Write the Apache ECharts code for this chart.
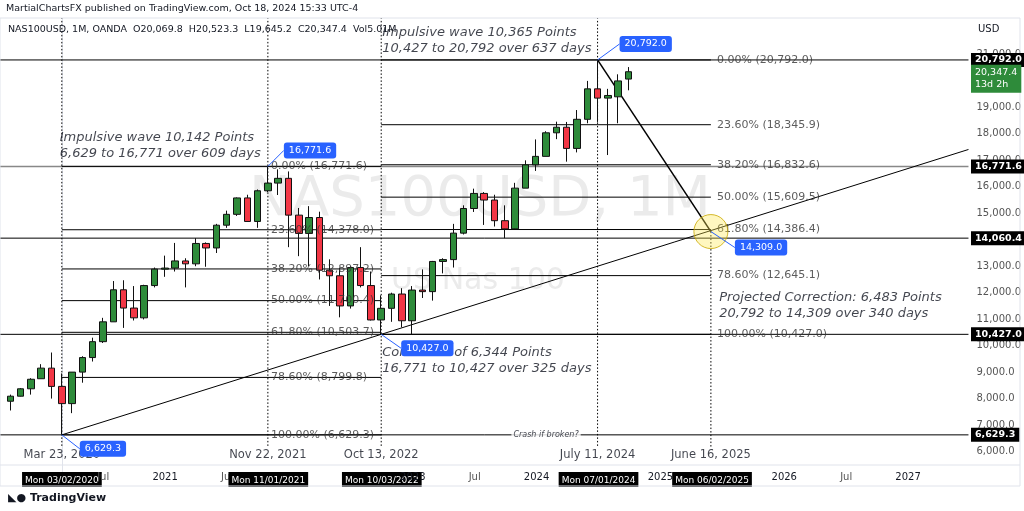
<!DOCTYPE html>
<html>
<head>
<meta charset="utf-8">
<script src="https://cdn.jsdelivr.net/npm/echarts@6/dist/echarts.min.js"></script>
<style>
  html, body { margin: 0; padding: 0; background: #fff; }
  #chart { width: 1024px; height: 511px; }
</style>
</head>
<body>
<div id="chart"></div>
<script>
// month index: 0 = Mar 2020, candles from Oct 2019 (-5) to Oct 2024 (55)
const firstMonth = -5;
const opens  = [7900, 8090, 8370, 8750, 9150, 8460, 7810, 9000, 9550, 10150, 10900, 12110, 11420, 11050, 12270,
  12890, 12930, 13200, 13090, 13860, 13690, 14550, 14960, 15580, 14690, 15850, 16140,
  16320, 14930, 14240, 14840, 12850, 12640, 11500, 12950, 12270, 10970, 11410, 11950,
  10940, 12100, 12040, 13180, 13250, 14250, 15180, 15750, 15500, 14720, 14410, 15950,
  16830, 17150, 18040, 18250, 17450, 18550, 19700, 19350, 19400, 20069.8];
const closes = [8090, 8370, 8730, 9150, 8460, 7810, 9000, 9550, 10150, 10900, 12110, 11420, 11050, 12270, 12890,
  12930, 13200, 13090, 13860, 13690, 14550, 14960, 15580, 14690, 15850, 16140, 16320,
  14930, 14240, 14840, 12850, 12640, 11500, 12950, 12270, 10970, 11410, 11950, 10940,
  12100, 12040, 13180, 13250, 14250, 15180, 15750, 15500, 14720, 14410, 15950, 16830,
  17150, 18040, 18250, 17450, 18550, 19700, 19350, 19450, 20000, 20347.4];
const lows   = [7550, 8080, 8150, 8750, 8000, 6629.3, 7450, 8600, 9400, 10100, 10900, 10670, 10950, 10990, 12200,
  12600, 12800, 12200, 13000, 12980, 13500, 14450, 14900, 14700, 14450, 15800, 15690,
  13720, 13380, 13000, 12500, 11500, 11070, 11400, 12200, 10950, 10440, 10900, 10690,
  10427, 11800, 11700, 12730, 12950, 14200, 15050, 14560, 14500, 14060, 14400, 15950,
  16600, 17150, 17800, 16950, 17300, 18400, 18450, 17200, 18400, 19645.2];
const highs  = [8150, 8400, 8770, 9300, 9740, 8950, 9000, 9600, 10300, 11050, 12440, 12470, 12250, 12300, 12950,
  13400, 13880, 13300, 14060, 13900, 14600, 15100, 15600, 15700, 15900, 16771.6, 16660,
  16580, 15200, 15270, 15060, 13260, 12950, 13000, 13720, 12800, 11900, 12000, 12170,
  12250, 12880, 13200, 13300, 14600, 15300, 15930, 15800, 15700, 15300, 16150, 17000,
  17790, 18100, 18460, 18450, 18900, 20000, 20792, 19700, 20250, 20523.3];

const fib1Pct = ['0.00%', '23.60%', '38.20%', '50.00%', '61.80%', '78.60%', '100.00%'];
const fib1Val = [16771.6, 14378.0, 12897.2, 11700.4, 10503.7, 8799.8, 6629.3];
const fib2Pct = ['0.00%', '23.60%', '38.20%', '50.00%', '61.80%', '78.60%', '100.00%'];
const fib2Val = [20792.0, 18345.9, 16832.6, 15609.5, 14386.4, 12645.1, 10427.0];

const fullLines = [20792.0, 16771.6, 14060.4, 10427.0, 6629.3];
const pivotMonths = [0, 20, 31, 52, 63];
const pivotDates = ['Mar 23, 2020', 'Nov 22, 2021', 'Oct 13, 2022', 'July 11, 2024', 'June 16, 2025'];
const pivotBoxes = ['Mon 03/02/2020', 'Mon 11/01/2021', 'Mon 10/03/2022', 'Mon 07/01/2024', 'Mon 06/02/2025'];
const priceTicks = [6000, 7000, 8000, 9000, 10000, 11000, 12000, 13000, 14000, 15000, 16000, 17000, 18000, 19000, 20000, 21000];

const X_MIN = -6, X_MAX = 88;
const candles = opens.map((o, i) => [firstMonth + i, o, closes[i], lows[i], highs[i]]);

function seg(data, opts) {
  return Object.assign({
    type: 'line', data: data, showSymbol: false, silent: true,
    lineStyle: { color: '#000', width: 1 }, xAxisIndex: 0, yAxisIndex: 0, z: 3
  }, opts || {});
}
function textAt(x, y, text, style, pos) {
  return {
    type: 'scatter', data: [[x, y]], symbolSize: 0, silent: true, z: 6,
    label: Object.assign({ show: true, position: pos || 'right', distance: 0, formatter: text,
      color: '#131722', fontFamily: 'DejaVu Sans', fontSize: 11 }, style)
  };
}

const series = [];
series.push({
  type: 'candlestick', data: candles, barWidth: 7, z: 4,
  encode: { x: 0, y: [1, 2, 3, 4] },
  itemStyle: { color: '#2e8b3a', color0: '#f23645', borderColor: '#111', borderColor0: '#111', borderWidth: 1 }
});
fullLines.forEach(v => series.push(seg([[X_MIN, v], [X_MAX, v]], {
  lineStyle: { color: v === 16771.6 ? '#888' : '#000', width: v === 16771.6 ? 1.5 : 1 } })));
fib1Val.forEach((v, i) => {
  series.push(seg([[0, v], [31, v]]));
  series.push(textAt(20.3, v, fib1Pct[i] + ' (' + v.toLocaleString('en-US', { minimumFractionDigits: 1 }) + ')', { color: '#333' }));
});
fib2Val.forEach((v, i) => {
  series.push(seg([[31, v], [63, v]]));
  series.push(textAt(63.6, v, fib2Pct[i] + ' (' + v.toLocaleString('en-US', { minimumFractionDigits: 1 }) + ')', { color: '#333' }));
});
// trend line through the two lows, projected correction line
series.push(seg([[0, 6629.3], [31, 10427.0], [X_MAX, 10427.0 + (10427.0 - 6629.3) / 31 * (X_MAX - 31)]]));
series.push(seg([[52, 20792.0], [63, 14309.0]], { lineStyle: { color: '#000', width: 1.5 } }));
// pivot verticals
pivotMonths.forEach((m, i) => series.push(seg([[m, i === 4 ? 14309 : 22400], [m, 6150]],
  { lineStyle: { color: '#000', width: 1, type: [1.5, 2] } })));
pivotMonths.forEach((m, i) => series.push(textAt(m, 5880, pivotDates[i],
  { fontSize: 11.5, fontFamily: 'DejaVu Sans', color: '#131722' }, 'inside')));
series.push({
  type: 'scatter', data: [[63, 14309]], symbolSize: 34, silent: true, z: 7,
  itemStyle: { color: 'rgba(255,232,80,0.45)', borderColor: '#c9a800', borderWidth: 1 }
});
series.push(textAt(47, 6629.3, 'Crash if broken?', { fontSize: 8, fontStyle: 'italic', backgroundColor: '#fff', padding: [0, 2] }, 'inside'));

const noteStyle = { fontFamily: 'DejaVu Sans', fontStyle: 'italic', fontSize: 13, lineHeight: 16, color: '#131722' };
series.push(textAt(-0.2, 17550, 'Impulsive wave 10,142 Points\n6,629 to 16,771 over 609 days', noteStyle));
series.push(textAt(31.1, 21520, 'Impulsive wave 10,365 Points\n10,427 to 20,792 over 637 days', noteStyle));
series.push(textAt(31.1, 9420, 'Correction of 6,344 Points\n16,771 to 10,427 over 325 days', noteStyle));
series.push(textAt(63.8, 11500, 'Projected Correction: 6,483 Points\n20,792 to 14,309 over 340 days', noteStyle));

const option = {
  animation: false,
  backgroundColor: '#fff',
  grid: [
    { left: 0, right: 54, top: 1.5, bottom: 33 },
    { left: 0, right: 54, top: 463, height: 1 }
  ],
  xAxis: [
    { type: 'value', gridIndex: 0, min: X_MIN, max: X_MAX, show: false },
    { type: 'value', gridIndex: 1, min: X_MIN, max: X_MAX, interval: 1,
      axisLine: { show: false }, axisTick: { show: false }, splitLine: { show: false },
      axisLabel: {
        margin: 8, fontSize: 10, fontFamily: 'DejaVu Sans', color: '#131722', showMinLabel: false, showMaxLabel: false,
        formatter: v => {
          const p = pivotMonths.indexOf(v);
          if (p >= 0) return '{box|' + pivotBoxes[p] + '}';
          const hidden = [-2, 22, 28, 52, 64];
          if (hidden.indexOf(v) >= 0) return '';
          const mo = ((v + 2) % 12 + 12) % 12;
          if (mo === 0) return String(2020 + Math.floor((v + 2) / 12));
          if (mo === 6) return '{jul|Jul}';
          return '';
        },
        rich: {
          box: { backgroundColor: '#000', color: '#fff', fontSize: 9, padding: [4, 3], fontFamily: 'DejaVu Sans' },
          jul: { color: '#555', fontSize: 10, fontFamily: 'DejaVu Sans' }
        }
      } }
  ],
  yAxis: [
    { type: 'value', gridIndex: 0, position: 'right', min: 5000, max: 23000, interval: 1000,
      axisLine: { show: true, lineStyle: { color: '#e0e3eb' } }, axisTick: { show: false }, splitLine: { show: false },
      axisLabel: { color: '#555', fontSize: 10, fontFamily: 'DejaVu Sans', margin: 8,
        formatter: v => priceTicks.indexOf(v) >= 0 ? v.toLocaleString('en-US', { minimumFractionDigits: 1 }) : '' } },
    { type: 'value', gridIndex: 1, show: false }
  ],
  series: series
};

const chart = echarts.init(document.getElementById('chart'));
chart.setOption(option);

// overlays positioned from data coordinates
const px = (m, v) => chart.convertToPixel({ xAxisIndex: 0, yAxisIndex: 0 }, [m, v]);
const gfx = [];
gfx.push({ type: 'text', z: 0, style: { x: 480, y: 172, text: 'NAS100USD, 1M', fill: '#ebebeb', font: '56px "DejaVu Sans"', textAlign: 'center' } });
gfx.push({ type: 'text', z: 0, style: { x: 478, y: 266, text: 'US Nas 100', fill: '#ebebeb', font: '30px "DejaVu Sans"', textAlign: 'center' } });
gfx.push({ type: 'rect', shape: { x: 0, y: 0, width: 1024, height: 18 }, style: { fill: '#fff' }, z: 10 });
gfx.push({ type: 'text', left: 6, top: 4, z: 11, style: { text: 'MartialChartsFX published on TradingView.com, Oct 18, 2024 15:33 UTC-4', fill: '#131722', font: '9.5px "DejaVu Sans"' } });
gfx.push({ type: 'rect', shape: { x: 0, y: 18, width: 1020, height: 468 }, style: { fill: 'none', stroke: '#e0e3eb' }, z: 10 });
gfx.push({ type: 'line', shape: { x1: 0, y1: 465, x2: 1020, y2: 465 }, style: { stroke: '#e0e3eb' }, z: 10 });
gfx.push({ type: 'text', left: 8, top: 25, z: 11, style: { text: 'NAS100USD, 1M, OANDA  O20,069.8  H20,523.3  L19,645.2  C20,347.4  Vol5.01M', fill: '#131722', font: '9.5px "DejaVu Sans"' } });
gfx.push({ type: 'text', left: 978, top: 24, z: 11, style: { text: 'USD', fill: '#131722', font: '10px "DejaVu Sans"' } });
gfx.push({ type: 'rect', shape: { x: 0, y: 487, width: 1024, height: 24 }, style: { fill: '#fff' }, z: 10 });
gfx.push({ type: 'text', left: 8, top: 493, z: 11, style: { text: '\u25E3\u25CF TradingView', fill: '#131722', font: 'bold 11px "DejaVu Sans"' } });

// right axis badges
const badges = [[20792.0, '20,792.0', '#000'], [16771.6, '16,771.6', '#000'], [14060.4, '14,060.4', '#000'],
  [10427.0, '10,427.0', '#000'], [6629.3, '6,629.3', '#000']];
badges.forEach(b => {
  const y = px(0, b[0])[1];
  gfx.push({ type: 'text', left: 971, top: y - 7, z: 12, style: { text: b[1], fill: '#fff', font: 'bold 9.5px "DejaVu Sans"', backgroundColor: b[2], padding: [2, 4] } });
});
const yc = px(0, 20347.4)[1];
gfx.push({ type: 'text', left: 971, top: yc - 7, z: 12, style: { text: '20,347.4\n13d 2h', fill: '#fff', font: '9.5px "DejaVu Sans"', backgroundColor: '#2e8b3a', padding: [2, 4], lineHeight: 12 } });

// blue price tags with leaders: [month, price, dx, dy, text]
const tags = [[0, 6629.3, 22, 14, '6,629.3'], [20, 16771.6, 20, -16, '16,771.6'], [31, 10427.0, 24, 14, '10,427.0'],
  [52, 20792.0, 26, -16, '20,792.0'], [63, 14309.0, 28, 16, '14,309.0']];
tags.forEach(t => {
  const p = px(t[0], t[1]);
  gfx.push({ type: 'line', z: 11, shape: { x1: p[0], y1: p[1], x2: p[0] + t[2] - 4, y2: p[1] + t[3] }, style: { stroke: '#2962ff', lineWidth: 1 } });
  gfx.push({ type: 'text', left: p[0] + t[2] - 4, top: p[1] + t[3] - 8, z: 12,
    style: { text: t[4], fill: '#fff', font: '9.5px "DejaVu Sans"', backgroundColor: '#2962ff', padding: [3, 5], borderRadius: 3 } });
});
chart.setOption({ graphic: gfx });
</script>
</body>
</html>
